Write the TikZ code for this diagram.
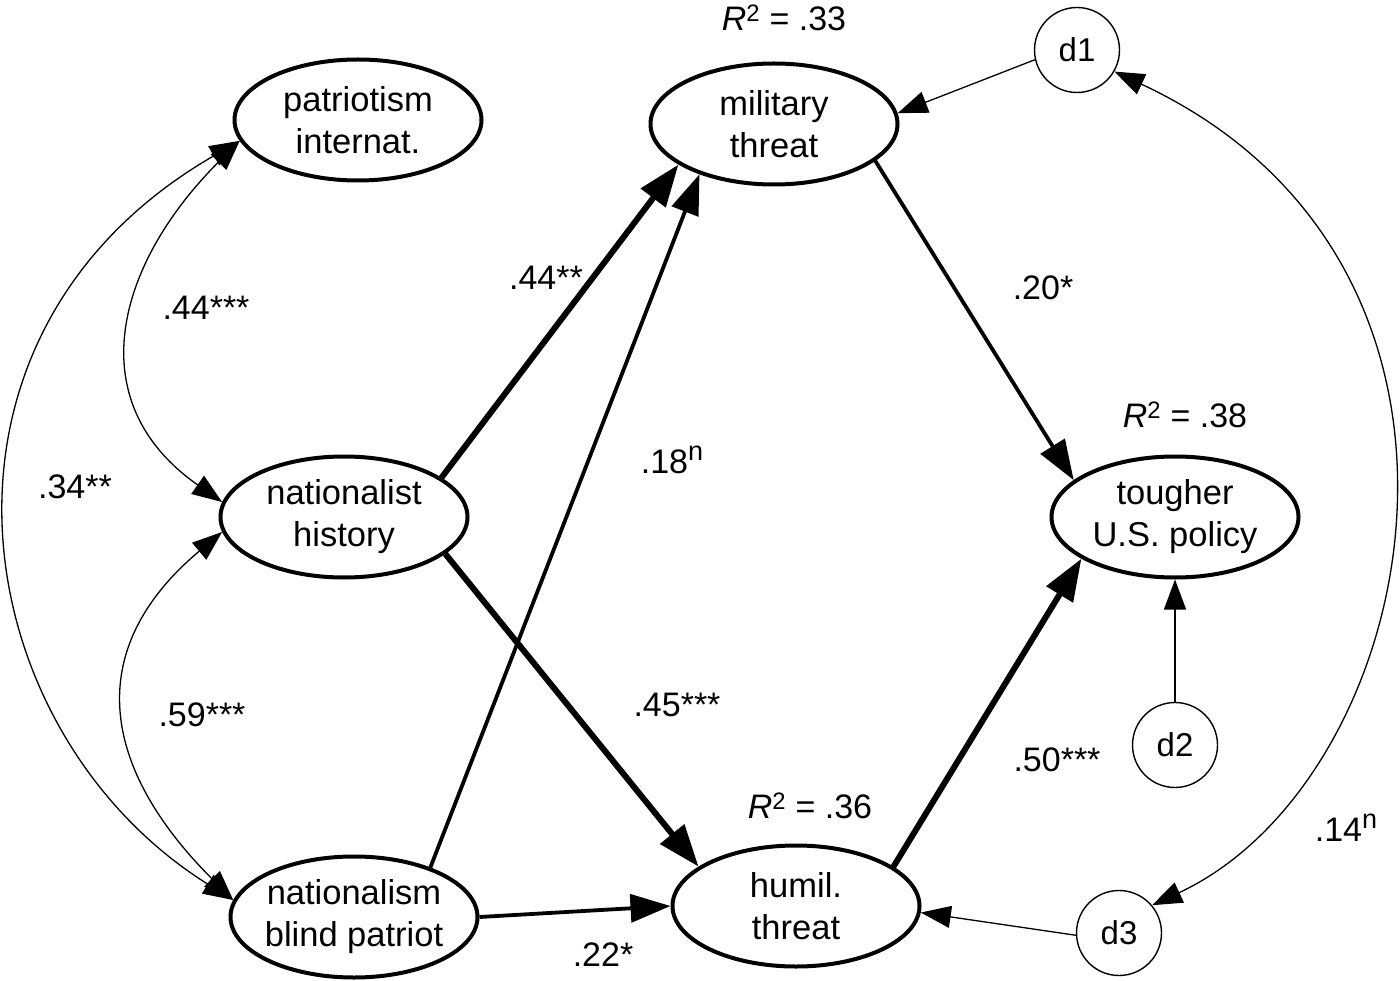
\documentclass[tikz,border=0pt]{standalone}
\usepackage{fontspec}
\setmainfont{Liberation Sans}
\usetikzlibrary{shapes.geometric,arrows.meta}
\newcommand{\supn}{{\fontsize{27}{30}\selectfont\raisebox{13pt}{n}}}
\begin{document}
\begin{tikzpicture}[x=1pt,y=1pt,
  ell/.style={draw, ellipse, line width=4pt, minimum width=247pt, minimum height=121pt, inner sep=0pt},
  circ/.style={draw, circle, line width=1.4pt, minimum size=85pt, inner sep=0pt, font=\fontsize{33}{36}\selectfont},
  txt/.style={align=center, font=\fontsize{34.5}{42}\selectfont, inner sep=0pt},
  lbl/.style={font=\fontsize{34}{40}\selectfont, inner sep=0pt},
  thinarr/.style={line width=1.3pt, -{Triangle[length=30pt,width=22pt]}},
  thinboth/.style={line width=1.3pt, {Triangle[length=30pt,width=22pt]}-{Triangle[length=30pt,width=22pt]}},
  heavyarr/.style={line width=6pt, -{Triangle[length=42pt,width=30pt]}},
  mediumarr/.style={line width=3.8pt, -{Triangle[length=40pt,width=28pt]}},
]
\useasboundingbox (0,0) rectangle (1400,-981);

% latent variables
\node[ell, label={[txt]center:patriotism\\internat.}] (pi) at (358,-120) {};
\node[ell, label={[txt]center:military\\threat}] (mt) at (774,-124) {};
\node[ell, label={[txt]center:nationalist\\history}] (nh) at (344,-517) {};
\node[ell, label={[txt]center:nationalism\\blind patriot}] (bp) at (354,-917) {};
\node[ell, label={[txt]center:humil.\\threat}] (ht) at (796,-906) {};
\node[ell, label={[txt]center:tougher\\U.S. policy}] (tg) at (1175,-517) {};

% disturbances
\node[circ] (d1) at (1077,-50) {d1};
\node[circ] (d2) at (1175,-745) {d2};
\node[circ] (d3) at (1119,-933) {d3};

% R squared
\node[lbl] (r33) at (784,-18) {\textit{R}\textsuperscript{2} = .33};
\node[lbl] (r38) at (1185,-415) {\textit{R}\textsuperscript{2} = .38};
\node[lbl] (r36) at (810,-806) {\textit{R}\textsuperscript{2} = .36};

% paths
\draw[heavyarr] (nh.22) -- (mt.203);
\draw[mediumarr] (bp.33) -- (mt.214);
\draw[heavyarr] (nh.-20) -- (ht.158);
\draw[mediumarr] (bp.east) -- (ht.west);
\draw[mediumarr] (mt.-20) -- (tg.160);
\draw[heavyarr] (ht.22) -- (tg.204);
\draw[thinarr] (d1.193) -- (mt.5);
\draw[thinarr] (d2.north) -- (tg.south);
\draw[thinarr] (d3.183) -- (ht.-3);

% correlations
\draw[thinboth] (pi.190) .. controls +(225:175) and +(145:175) .. (nh.173);
\draw[thinboth] (pi.190) .. controls +(210:390) and +(148:318) .. (bp.172);
\draw[thinboth] (nh.187) .. controls +(220:185) and +(135:185) .. (bp.172);
\draw[thinboth] (d1.-30) .. controls +(-25:458) and +(25:298) .. (d3.40);

% coefficients
\node[lbl] (c1) at (206,-308) {.44***};
\node[lbl] (c2) at (75,-487) {.34**};
\node[lbl] (c3) at (202,-715) {.59***};
\node[lbl] (c4) at (546,-278) {.44**};
\node[lbl] (c5) at (672,-460) {.18\supn};
\node[lbl] (c6) at (677,-705) {.45***};
\node[lbl] (c7) at (603,-955) {.22*};
\node[lbl] (c8) at (1043,-288) {.20*};
\node[lbl] (c9) at (1057,-760) {.50***};
\node[lbl] (c10) at (1346,-828) {.14\supn};
\end{tikzpicture}
\end{document}
